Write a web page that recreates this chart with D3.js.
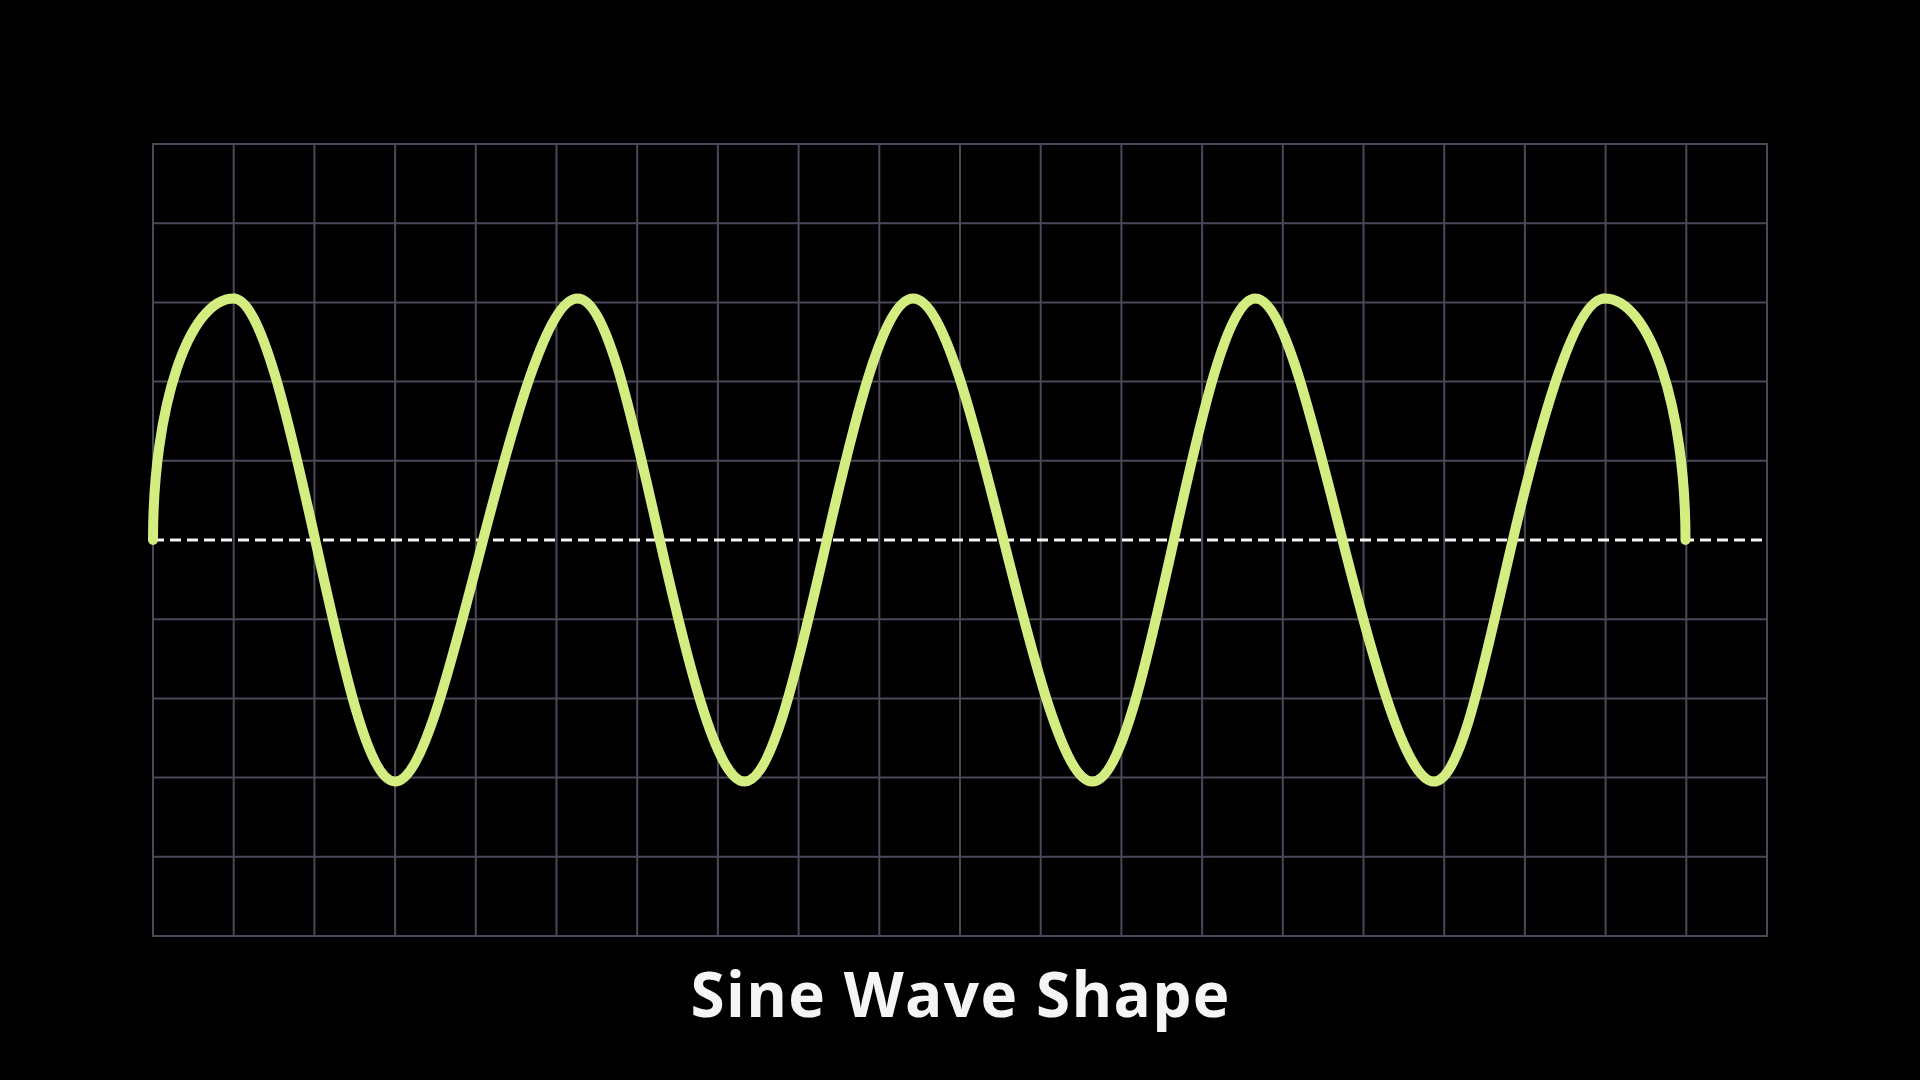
<!DOCTYPE html>
<html>
<head>
<meta charset="utf-8">
<script src="https://cdn.jsdelivr.net/npm/d3@7"></script>
<style>
  html, body { margin: 0; padding: 0; background: #000; }
  svg { display: block; }
</style>
</head>
<body>
<svg id="chart" width="1920" height="1080"></svg>
<script>
// grid units: 20 columns, 10 rows, centre line at 0
var colTicks = d3.range(0, 21)
var rowTicks = d3.range(-5, 6)

// points (x in columns, y in rows)
var crossX  = [0, 2.01, 4.09, 6.28, 8.35, 10.54, 12.65, 14.74, 16.85, 18.99]
var peakX   = [1.0, 5.26, 9.42, 13.66, 17.99]
var troughX = [3.0, 7.33, 11.64, 15.87]
var peakY   = 3.05
var troughY = -3.05

var title = "Sine Wave Shape"

var wavePoints = []
crossX.forEach(function(x){ wavePoints.push({x: x, y: 0}) })
peakX.forEach(function(x){ wavePoints.push({x: x, y: peakY}) })
troughX.forEach(function(x){ wavePoints.push({x: x, y: troughY}) })
wavePoints.sort(function(a, b){ return a.x - b.x })

var svg = d3.select("#chart")

svg.append("rect")
    .attr("width", 1920)
    .attr("height", 1080)
    .attr("fill", "#000")

var xScale = d3.scaleLinear().domain([0, 20]).range([153, 1767])
var yScale = d3.scaleLinear().domain([-5, 5]).range([936, 144])

var grid = svg.append("g").attr("class", "grid")

grid.selectAll(".v-line")
    .data(colTicks)
  .enter().append("line")
    .attr("class", "v-line")
    .attr("x1", function(d){ return xScale(d) })
    .attr("x2", function(d){ return xScale(d) })
    .attr("y1", yScale(5))
    .attr("y2", yScale(-5))
    .attr("stroke", "#4a4859")
    .attr("stroke-width", 2)

grid.selectAll(".h-line")
    .data(rowTicks.filter(function(d){ return d != 0 }))
  .enter().append("line")
    .attr("class", "h-line")
    .attr("x1", xScale(0) - 1)
    .attr("x2", xScale(20) + 1)
    .attr("y1", function(d){ return yScale(d) })
    .attr("y2", function(d){ return yScale(d) })
    .attr("stroke", "#4a4859")
    .attr("stroke-width", 2)

/* dashed centre line */
svg.append("line")
    .attr("x1", xScale(0))
    .attr("x2", xScale(20))
    .attr("y1", yScale(0))
    .attr("y2", yScale(0))
    .attr("stroke", "#f4f4f4")
    .attr("stroke-width", 3)
    .attr("stroke-dasharray", "11,6")

/* middle part: spline through crossings and extrema, clipped between the outer peaks */
var xSplitA = xScale(peakX[0])
var xSplitB = xScale(peakX[peakX.length - 1])
svg.append("defs").append("clipPath").attr("id", "clip-mid")
  .append("rect")
    .attr("x", xSplitA)
    .attr("y", 0)
    .attr("width", xSplitB - xSplitA)
    .attr("height", 1080)

var lineMid = d3.line()
    .x(function(d){ return xScale(d.x) })
    .y(function(d){ return yScale(d.y) })
    .curve(d3.curveNatural)

// the first and last quarter are rounder (quarter ellipse) in the picture
var K = 0.5523
var quarter = function(x0, y0, x1, y1, rising){
  var p = d3.path()
  p.moveTo(x0, y0)
  if (rising) p.bezierCurveTo(x0, y0 + K*(y1 - y0), x1 - K*(x1 - x0), y1, x1, y1)
  else p.bezierCurveTo(x0 + K*(x1 - x0), y0, x1, y1 - K*(y1 - y0), x1, y1)
  return p.toString()
}

var lastP = peakX.length - 1, lastC = crossX.length - 1
var pieces = [
  {d: quarter(xScale(crossX[0]), yScale(0), xScale(peakX[0]), yScale(peakY), true), clip: null},
  {d: lineMid(wavePoints), clip: "url(#clip-mid)"},
  {d: quarter(xScale(peakX[lastP]), yScale(peakY), xScale(crossX[lastC]), yScale(0), false), clip: null}
]

svg.append("g").attr("class", "wave")
  .selectAll("path")
    .data(pieces)
  .enter().append("path")
    .attr("d", function(d){ return d.d })
    .attr("clip-path", function(d){ return d.clip })
    .attr("fill", "none")
    .attr("stroke", "#d4ed80")
    .attr("stroke-width", 10)
    .attr("stroke-linecap", "round")
    .attr("stroke-linejoin", "round")

svg.append("text")
    .attr("x", 960)
    .attr("y", 1017)
    .attr("text-anchor", "middle")
    .attr("font-family", "'Open Sans', Lato, sans-serif")
    .attr("font-weight", 700)
    .attr("font-size", 62)
    .attr("textLength", 539)
    .attr("lengthAdjust", "spacing")
    .attr("fill", "#f5f5f7")
    .text(title)
</script>
</body>
</html>
